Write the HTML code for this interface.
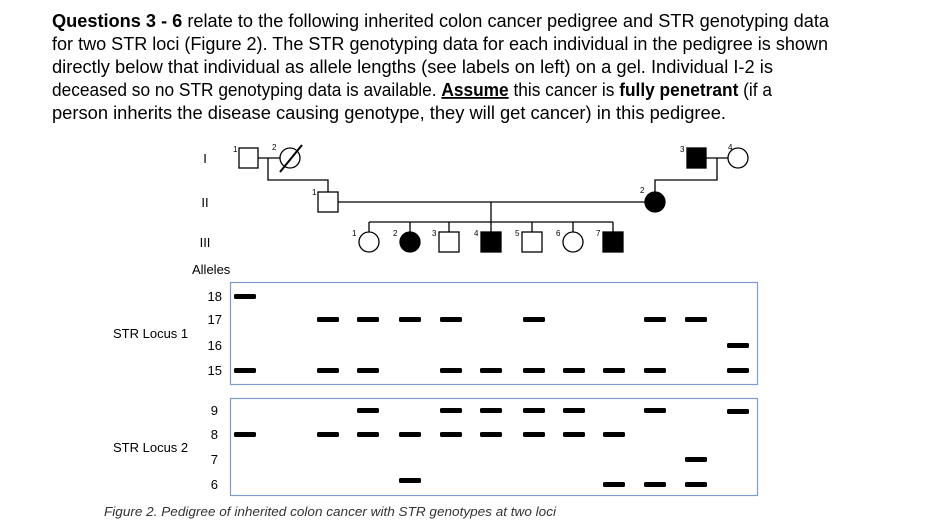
<!DOCTYPE html>
<html><head><meta charset="utf-8"><style>
html,body{margin:0;padding:0;background:#fff;}
svg{display:block;}
.t{font-family:"Liberation Sans Narrow","Liberation Sans",sans-serif;font-size:18px;fill:#000;}
.s{font-family:"Liberation Sans",sans-serif;fill:#000;}
</style></head><body>
<svg width="936" height="526" viewBox="0 0 936 526" xmlns="http://www.w3.org/2000/svg">
<text class="t" x="52" y="27" textLength="777" lengthAdjust="spacingAndGlyphs"><tspan font-weight="bold">Questions 3 - 6</tspan> relate to the following inherited colon cancer pedigree and STR genotyping data</text>
<text class="t" x="52" y="50" textLength="776" lengthAdjust="spacingAndGlyphs">for two STR loci (Figure 2). The STR genotyping data for each individual in the pedigree is shown</text>
<text class="t" x="52" y="73" textLength="721" lengthAdjust="spacingAndGlyphs">directly below that individual as allele lengths (see labels on left) on a gel. Individual I-2 is</text>
<text class="t" x="52" y="96" textLength="720" lengthAdjust="spacingAndGlyphs">deceased so no STR genotyping data is available. <tspan font-weight="bold" text-decoration="underline">Assume</tspan> this cancer is <tspan font-weight="bold">fully penetrant</tspan> (if a</text>
<text class="t" x="52" y="119" textLength="674" lengthAdjust="spacingAndGlyphs">person inherits the disease causing genotype, they will get cancer) in this pedigree.</text>

<g class="s" font-size="13">
<text x="205" y="163" text-anchor="middle">I</text>
<text x="205" y="207" text-anchor="middle">II</text>
<text x="205" y="247" text-anchor="middle">III</text>
<text x="192" y="274">Alleles</text>
<text x="222" y="301" text-anchor="end">18</text>
<text x="222" y="324" text-anchor="end">17</text>
<text x="222" y="350" text-anchor="end">16</text>
<text x="222" y="375" text-anchor="end">15</text>
<text x="218" y="415" text-anchor="end">9</text>
<text x="218" y="439" text-anchor="end">8</text>
<text x="218" y="464" text-anchor="end">7</text>
<text x="218" y="489" text-anchor="end">6</text>
<text x="113" y="338">STR Locus 1</text>
<text x="113" y="452">STR Locus 2</text>
</g>
<g class="s" font-size="8">
<text x="233" y="152">1</text><text x="272" y="150">2</text>
<text x="680" y="152">3</text><text x="728" y="150">4</text>
<text x="312" y="195">1</text><text x="640" y="193">2</text>
<text x="352" y="236">1</text><text x="393" y="236">2</text><text x="432" y="236">3</text>
<text x="474" y="236">4</text><text x="515" y="236">5</text><text x="556" y="236">6</text><text x="596" y="236">7</text>
</g>

<g stroke="#000" stroke-width="1.3" fill="none">
<line x1="258" y1="158" x2="280" y2="158"/>
<polyline points="268,158 268,180 328,180 328,192"/>
<line x1="706" y1="158" x2="728" y2="158"/>
<polyline points="717,158 717,180 655,180 655,192"/>
<line x1="338" y1="202" x2="645" y2="202"/>
<line x1="491" y1="202" x2="491" y2="222"/>
<line x1="369" y1="222" x2="613" y2="222"/>
<line x1="369" y1="222" x2="369" y2="232"/><line x1="410" y1="222" x2="410" y2="232"/>
<line x1="449" y1="222" x2="449" y2="232"/><line x1="491" y1="222" x2="491" y2="232"/>
<line x1="532" y1="222" x2="532" y2="232"/><line x1="573" y1="222" x2="573" y2="232"/>
<line x1="613" y1="222" x2="613" y2="232"/>
<rect x="239" y="148" width="19" height="20" fill="#fff"/>
<circle cx="290" cy="158" r="10" fill="#fff"/>
<line x1="280" y1="172" x2="302" y2="145" stroke-width="2"/>
<rect x="687" y="148" width="19" height="20" fill="#000"/>
<circle cx="738" cy="158" r="10" fill="#fff"/>
<rect x="318" y="192" width="20" height="20" fill="#fff"/>
<circle cx="655" cy="202" r="10" fill="#000"/>
<circle cx="369" cy="242" r="10" fill="#fff"/>
<circle cx="410" cy="242" r="10" fill="#000"/>
<rect x="439" y="232" width="20" height="20" fill="#fff"/>
<rect x="481" y="232" width="20" height="20" fill="#000"/>
<rect x="522" y="232" width="20" height="20" fill="#fff"/>
<circle cx="573" cy="242" r="10" fill="#fff"/>
<rect x="603" y="232" width="20" height="20" fill="#000"/>
</g>

<rect x="230.5" y="282.5" width="527" height="102" fill="none" stroke="#7f9acb" stroke-width="1.2"/>
<rect x="230.5" y="398.5" width="527" height="97" fill="none" stroke="#7f9acb" stroke-width="1.2"/>

<g fill="#000">
<rect x="234" y="294" width="22" height="5" rx="1.5"/>
<rect x="234" y="368" width="22" height="5" rx="1.5"/>
<rect x="317" y="317" width="22" height="5" rx="1.5"/><rect x="317" y="368" width="22" height="5" rx="1.5"/>
<rect x="357" y="317" width="22" height="5" rx="1.5"/><rect x="357" y="368" width="22" height="5" rx="1.5"/>
<rect x="399" y="317" width="22" height="5" rx="1.5"/>
<rect x="440" y="317" width="22" height="5" rx="1.5"/><rect x="440" y="368" width="22" height="5" rx="1.5"/>
<rect x="480" y="368" width="22" height="5" rx="1.5"/>
<rect x="523" y="317" width="22" height="5" rx="1.5"/><rect x="523" y="368" width="22" height="5" rx="1.5"/>
<rect x="563" y="368" width="22" height="5" rx="1.5"/>
<rect x="603" y="368" width="22" height="5" rx="1.5"/>
<rect x="644" y="317" width="22" height="5" rx="1.5"/><rect x="644" y="368" width="22" height="5" rx="1.5"/>
<rect x="685" y="317" width="22" height="5" rx="1.5"/>
<rect x="727" y="343" width="22" height="5" rx="1.5"/><rect x="727" y="368" width="22" height="5" rx="1.5"/>
<rect x="234" y="432" width="22" height="5" rx="1.5"/>
<rect x="317" y="432" width="22" height="5" rx="1.5"/>
<rect x="357" y="408" width="22" height="5" rx="1.5"/><rect x="357" y="432" width="22" height="5" rx="1.5"/>
<rect x="399" y="432" width="22" height="5" rx="1.5"/><rect x="399" y="478" width="22" height="5" rx="1.5"/>
<rect x="440" y="408" width="22" height="5" rx="1.5"/><rect x="440" y="432" width="22" height="5" rx="1.5"/>
<rect x="480" y="408" width="22" height="5" rx="1.5"/><rect x="480" y="432" width="22" height="5" rx="1.5"/>
<rect x="523" y="408" width="22" height="5" rx="1.5"/><rect x="523" y="432" width="22" height="5" rx="1.5"/>
<rect x="563" y="408" width="22" height="5" rx="1.5"/><rect x="563" y="432" width="22" height="5" rx="1.5"/>
<rect x="603" y="432" width="22" height="5" rx="1.5"/><rect x="603" y="482" width="22" height="5" rx="1.5"/>
<rect x="644" y="408" width="22" height="5" rx="1.5"/><rect x="644" y="482" width="22" height="5" rx="1.5"/>
<rect x="685" y="457" width="22" height="5" rx="1.5"/><rect x="685" y="482" width="22" height="5" rx="1.5"/>
<rect x="727" y="409" width="22" height="5" rx="1.5"/>
</g>

<text x="104" y="516" font-family="Liberation Sans Narrow, Liberation Sans, sans-serif" font-style="italic" font-size="13" fill="#333" textLength="452" lengthAdjust="spacingAndGlyphs">Figure 2. Pedigree of inherited colon cancer with STR genotypes at two loci</text>
</svg>
</body></html>
